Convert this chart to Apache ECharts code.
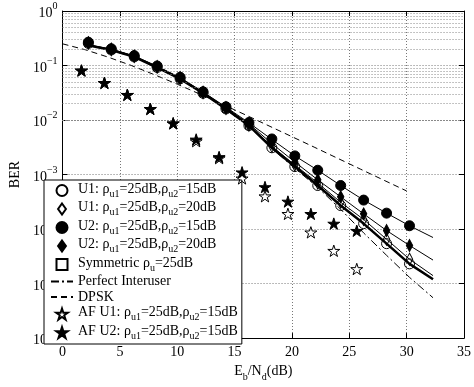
<!DOCTYPE html>
<html><head><meta charset="utf-8">
<script src="https://cdn.jsdelivr.net/npm/echarts@6/dist/echarts.min.js"></script>
<style>html,body{margin:0;padding:0;background:#fff}#c{width:474px;height:387px}</style>
</head><body><div id="c"></div>
<script>
// ---- data ----
const markerX = [2.25, 4.25, 6.25, 8.25, 10.25, 12.25, 14.25, 16.25, 18.25, 20.25, 22.25, 24.25, 26.25, 28.25, 30.25];
const u1_15 = [0.255, 0.193, 0.144, 0.092, 0.057, 0.031, 0.016, 0.0079, 0.0031, 0.0014, 0.00063, 0.00027, 0.000126, 0.000054, 0.000023];
const u1_20 = [0.257, 0.195, 0.146, 0.093, 0.058, 0.0315, 0.0163, 0.008, 0.0033, 0.0015, 0.0007, 0.00031, 0.00015, 0.000065, 0.000028];
const u2_15 = [0.268, 0.203, 0.152, 0.098, 0.061, 0.033, 0.0175, 0.009, 0.0045, 0.0022, 0.0012, 0.00063, 0.00034, 0.000196, 0.000115];
const u2_20 = [0.263, 0.2, 0.149, 0.096, 0.06, 0.0325, 0.017, 0.0086, 0.0038, 0.0017, 0.0008, 0.00039, 0.00019, 0.000094, 0.00005];
const symX = [2.25, 4.25, 6.25, 8.25, 10.25, 12.25, 14.25, 16.25];
const sym = [0.255, 0.193, 0.144, 0.092, 0.057, 0.031, 0.016, 0.0079];

const curveX = [2.0, 4.25, 6.25, 8.25, 10.25, 12.25, 14.25, 16.25, 18.25, 20.25, 22.25, 24.25, 26.25, 28.25, 30.25, 32.3];
const curveU2_15 = [0.245, 0.2, 0.15, 0.097, 0.06, 0.0328, 0.0173, 0.0089, 0.0044, 0.0022, 0.0012, 0.00063, 0.00034, 0.000196, 0.000115, 0.00007];
const curveU2_20 = [0.243, 0.198, 0.148, 0.095, 0.059, 0.0322, 0.0168, 0.0085, 0.0037, 0.0017, 0.0008, 0.00039, 0.00019, 0.000094, 0.00005, 0.000027];
const curveU1_20 = [0.241, 0.195, 0.146, 0.093, 0.058, 0.0314, 0.0162, 0.008, 0.0033, 0.0015, 0.0007, 0.00031, 0.00015, 0.000065, 0.000028, 0.000014];
const curveU1_15 = [0.24, 0.193, 0.144, 0.092, 0.057, 0.031, 0.016, 0.0079, 0.0031, 0.0014, 0.00063, 0.00027, 0.000126, 0.000054, 0.000023, 0.000012];
const curvePerfect = [0.238, 0.19, 0.142, 0.09, 0.056, 0.0305, 0.0157, 0.0077, 0.003, 0.0013, 0.00058, 0.00023, 0.000085, 0.000033, 0.000013, 0.0000055];

const dpskX = [0, 2, 4, 6, 8, 10, 12, 14, 16, 18, 20, 22, 24, 26, 28, 30];
const dpsk = [0.25, 0.194, 0.142, 0.1, 0.068, 0.0455, 0.0297, 0.0192, 0.0123, 0.0078, 0.00495, 0.00314, 0.00198, 0.00125, 0.00079, 0.0005];

const afX = [1.65, 3.65, 5.65, 7.65, 9.65, 11.65, 13.65, 15.65, 17.65, 19.65, 21.65, 23.65, 25.65];
const afU1 = [0.081, 0.048, 0.029, 0.016, 0.0087, 0.0041, 0.002, 0.00085, 0.0004, 0.00019, 0.000087, 0.00004, 0.0000185];
const afU2 = [0.081, 0.048, 0.029, 0.016, 0.0087, 0.0044, 0.0021, 0.0011, 0.00059, 0.00032, 0.00019, 0.000126, 0.000093];

// ---- chart ----
const FONT = '"Liberation Serif","Times New Roman",serif';
const STAR = 'path://M50 0L61.17 34.63L97.55 34.55L68.07 55.87L79.39 90.45L50 69L20.61 90.45L31.93 55.87L2.45 34.55L38.83 34.63Z';
const DIAMOND = 'path://M5 0L10 7L5 14L0 7Z';
const SQUARE = 'path://M0 0L10 0L10 10L0 10Z';
const pts = (xs, ys) => xs.map((x, i) => [x, ys[i]]);

const minorGrid = [];
for (let k = -6; k < 0; k++) for (let m = 2; m <= 9; m++) minorGrid.push({ yAxis: m * Math.pow(10, k) });

const legendRich = {
  'U1 15': '{m|U1: ρ}{s|u1}{m|=25dB,ρ}{s|u2}{m|=15dB}',
  'U1 20': '{m|U1: ρ}{s|u1}{m|=25dB,ρ}{s|u2}{m|=20dB}',
  'U2 15': '{m|U2: ρ}{s|u1}{m|=25dB,ρ}{s|u2}{m|=15dB}',
  'U2 20': '{m|U2: ρ}{s|u1}{m|=25dB,ρ}{s|u2}{m|=20dB}',
  'Symmetric': '{m|Symmetric ρ}{s|u}{m|=25dB}',
  'Perfect Interuser': 'Perfect Interuser',
  'DPSK': 'DPSK',
  'AF U1': '{m|AF U1: ρ}{s|u1}{m|=25dB,ρ}{s|u2}{m|=15dB}',
  'AF U2': '{m|AF U2: ρ}{s|u1}{m|=25dB,ρ}{s|u2}{m|=15dB}'
};

const black = '#000';
function curve(name, data, width, type) {
  return { name, type: 'line', data, showSymbol: false, symbol: 'circle', symbolSize: 0, z: 2,
    lineStyle: { color: black, width, type: type || 'solid', opacity: 1 },
    itemStyle: { color: 'rgba(0,0,0,0)', borderWidth: 0, borderColor: 'rgba(0,0,0,0)' } };
}
function marks(name, data, symbol, size, filled, z) {
  return { name, type: 'scatter', data, symbol, symbolSize: size, symbolKeepAspect: true, z: z,
    itemStyle: { color: filled ? black : 'rgba(0,0,0,0)', borderColor: black, borderWidth: 1, opacity: 1 } };
}

const series = [
  Object.assign(curve('DPSK', pts(dpskX, dpsk), 1, [6, 4]), {
    markLine: { silent: true, symbol: ['none', 'none'], label: { show: false }, animation: false,
      lineStyle: { color: '#888', type: [1, 2], width: 1 }, emphasis: { disabled: true }, data: minorGrid }
  }),
  curve('Perfect Interuser', pts(curveX, curvePerfect), 1, [8, 3, 2, 3]),
  curve('c_u1_15', pts(curveX, curveU1_15), 2.5),
  curve('c_u1_20', pts(curveX, curveU1_20), 1),
  curve('c_u2_20', pts(curveX, curveU2_20), 1),
  curve('c_u2_15', pts(curveX, curveU2_15), 1),
  marks('Symmetric', pts(symX, sym), SQUARE, 7, false, 3),
  marks('U1 15', pts(markerX, u1_15), 'circle', 10, false, 4),
  marks('U1 20', pts(markerX, u1_20), DIAMOND, [9, 12], false, 5),
  marks('U2 15', pts(markerX, u2_15), 'circle', 10, true, 6),
  marks('U2 20', pts(markerX, u2_20), DIAMOND, [9, 12], true, 7),
  marks('AF U1', pts(afX, afU1), STAR, 12, false, 8),
  marks('AF U2', pts(afX, afU2), STAR, 12, true, 9)
];

const axisCommon = {
  axisLine: { show: true, onZero: false, lineStyle: { color: black, width: 1 } },
  axisTick: { show: true, inside: true, length: 5, lineStyle: { color: black } }
};

const option = {
  animation: false,
  backgroundColor: '#fff',
  grid: { left: 40, right: 5, top: 11, bottom: 39, containLabel: false },
  xAxis: [
    Object.assign({ type: 'value', min: 0, max: 35, interval: 5, position: 'bottom',
      axisLabel: { color: black, fontFamily: FONT, fontSize: 14, margin: 7 },
      splitLine: { show: true, lineStyle: { color: '#777', type: [1, 2], width: 1 } },
      name: '{m|E}{s|b}{m|/N}{s|d}{m|(dB)}', nameLocation: 'middle', nameGap: 24,
      nameTextStyle: { color: black, fontFamily: FONT, fontSize: 14, rich: {
        m: { fontFamily: FONT, fontSize: 14, color: black, padding: [0, 0, 4, 0] },
        s: { fontFamily: FONT, fontSize: 10, color: black, padding: [8, 0, 0, 0] } } }
    }, axisCommon),
    Object.assign({ type: 'value', min: 0, max: 35, interval: 5, position: 'top',
      axisLabel: { show: false }, splitLine: { show: false } }, axisCommon)
  ],
  yAxis: [
    Object.assign({ type: 'log', logBase: 10, min: 1e-6, max: 1, interval: 1, position: 'left',
      axisLabel: { margin: 5, fontFamily: FONT, color: black,
        formatter: v => {
          const e = Math.round(Math.log10(v));
          return '{b|10}{e|' + (e < 0 ? '\u2212' + (-e) : e) + '}';
        },
        rich: {
          b: { fontFamily: FONT, fontSize: 14, color: black, padding: [5, 0, 0, 0] },
          e: { fontFamily: FONT, fontSize: 10, color: black, padding: [0, 0, 9, 0] }
        } },
      splitLine: { show: true, lineStyle: { color: '#777', type: [1, 2], width: 1 } },
      name: 'BER', nameLocation: 'middle', nameGap: 31, nameRotate: 90,
      nameTextStyle: { color: black, fontFamily: FONT, fontSize: 14 }
    }, axisCommon),
    Object.assign({ type: 'log', logBase: 10, min: 1e-6, max: 1, interval: 1, position: 'right',
      axisLabel: { show: false }, splitLine: { show: false } }, axisCommon)
  ],
  legend: {
    orient: 'vertical', left: 44, top: 180,
    data: ['U1 15', 'U1 20', 'U2 15', 'U2 20', 'Symmetric', 'Perfect Interuser', 'DPSK', 'AF U1', 'AF U2'],
    formatter: n => legendRich[n],
    itemWidth: 22, itemHeight: 11, itemGap: 1.5,
    symbolKeepAspect: true,
    padding: [2, 4, 3, 6],
    backgroundColor: '#fff', borderColor: black, borderWidth: 1, borderRadius: 0,
    selectedMode: false,
    textStyle: { color: black, fontFamily: FONT, fontSize: 14, rich: {
      m: { fontFamily: FONT, fontSize: 14, color: black, padding: [0, 0, 3, 0] },
      s: { fontFamily: FONT, fontSize: 10, color: black, padding: [7, 0, 0, 0] } } }
  },
  series: series
};
series.forEach(s => { s.xAxisIndex = 0; s.yAxisIndex = 0; s.animation = false; s.silent = true; });

const chart = echarts.init(document.getElementById('c'), null, { renderer: 'canvas' });
chart.setOption(option);
</script>
</body></html>
